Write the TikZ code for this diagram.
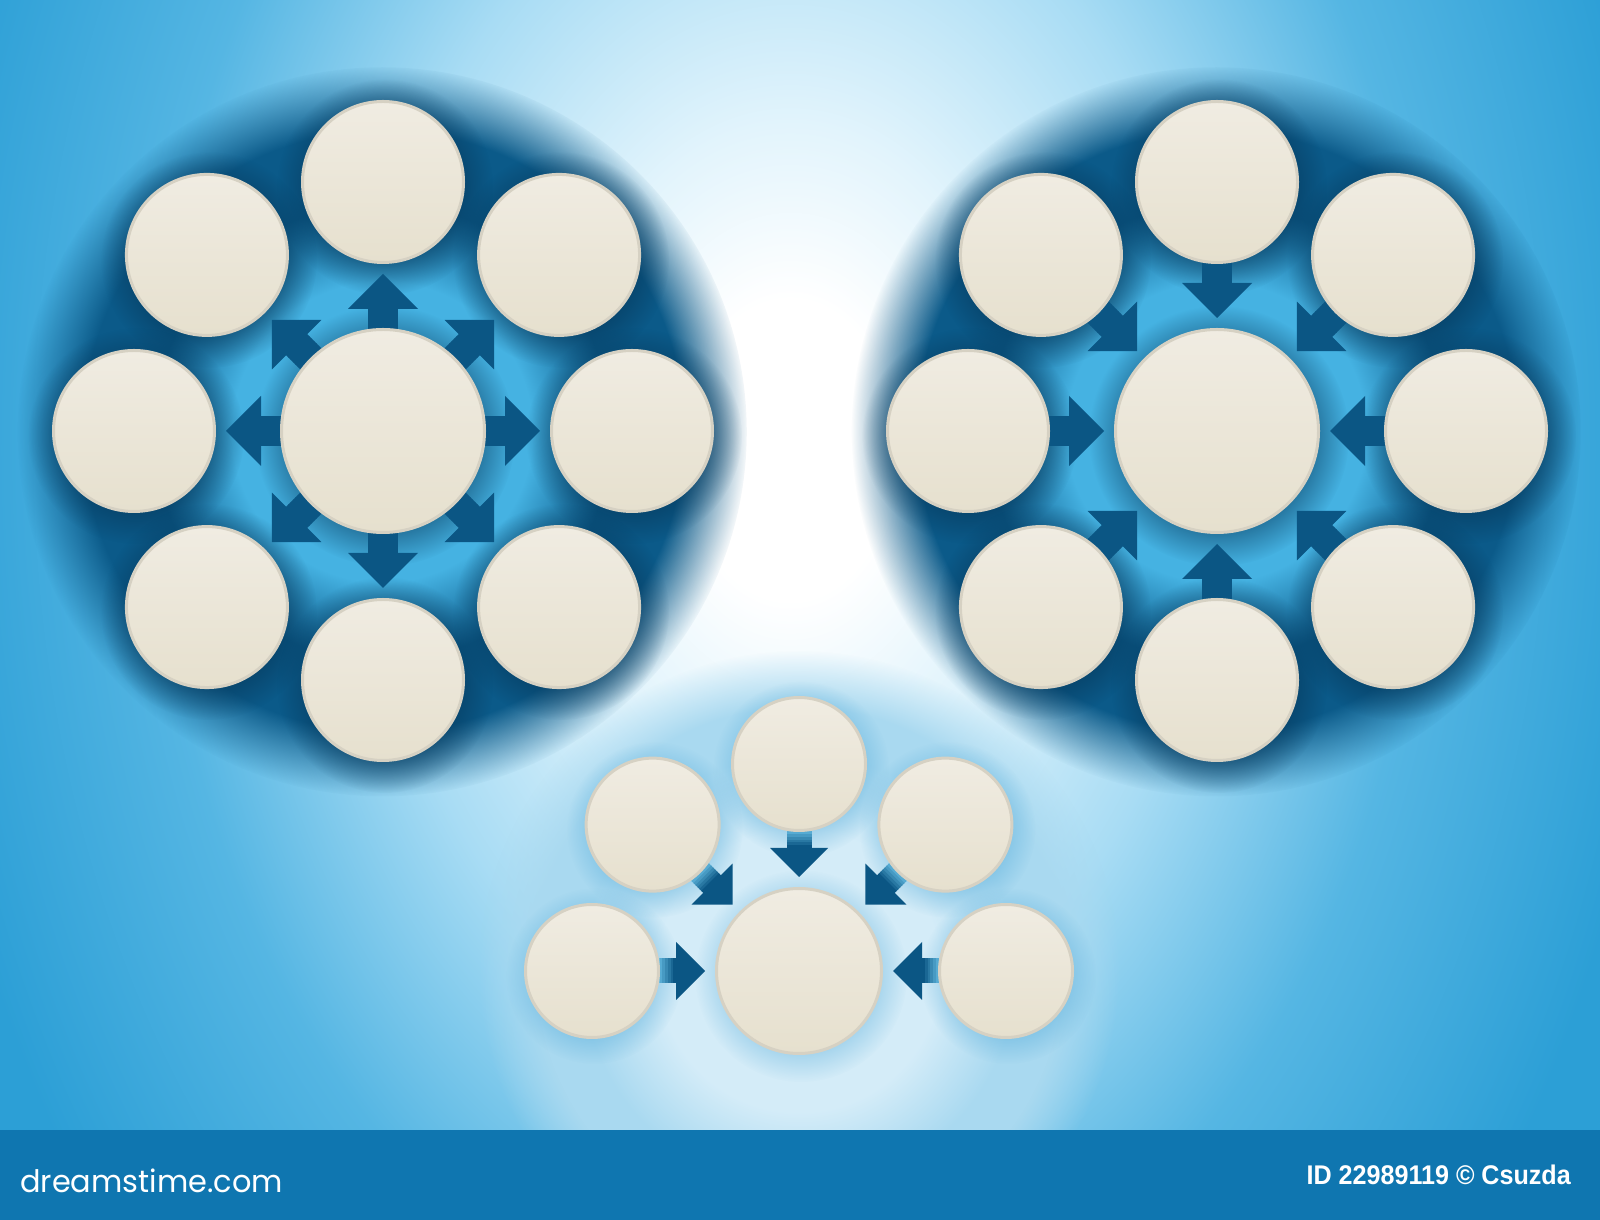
\documentclass[tikz,border=0pt]{standalone}
\usepackage{fontspec}
\newfontfamily\logofont{Poppins}
\newfontfamily\idfont{Liberation Sans}
\usetikzlibrary{calc,fadings}

\definecolor{bgblue}{HTML}{2C9FD6}
\definecolor{bgA}{HTML}{E2F4FC}
\definecolor{bgB}{HTML}{A8DCF4}
\definecolor{bgC}{HTML}{55B6E3}
\definecolor{gcyan}{HTML}{45B2E2}
\definecolor{gnavy}{HTML}{0B5A89}
\definecolor{lcyan}{HTML}{D4ECF8}
\definecolor{lblue}{HTML}{A9D9F0}
\definecolor{shnavy}{HTML}{06395C}
\definecolor{shlight}{HTML}{4FA9D8}
\definecolor{arrowc}{HTML}{0B5684}
\definecolor{tailc}{HTML}{74CDF2}
\definecolor{ctop}{HTML}{F0ECE2}
\definecolor{cbot}{HTML}{E6E0CE}
\definecolor{cborder}{HTML}{D6D1C3}
\definecolor{barblue}{HTML}{0F76B0}

% the path's bounding box maps to the -25bp..25bp square
\pgfdeclareradialshading{bgshade}{\pgfpoint{0bp}{0bp}}{color(0bp)=(white); color(3bp)=(white); color(6.5bp)=(bgA); color(12bp)=(bgB); color(18bp)=(bgC); color(25bp)=(bgblue); color(50bp)=(bgblue)}
\pgfdeclareradialshading{glow}{\pgfpoint{0bp}{0bp}}{color(0bp)=(gcyan); color(10.3bp)=(gcyan); color(15.7bp)=(gnavy); color(25bp)=(gnavy); color(50bp)=(gnavy)}
\pgfdeclareradialshading{glowlight}{\pgfpoint{0bp}{0bp}}{color(0bp)=(lcyan); color(11bp)=(lcyan); color(17bp)=(lblue); color(25bp)=(lblue); color(50bp)=(lblue)}
\pgfdeclareradialshading{glowfadeshade}{\pgfpoint{0bp}{0bp}}{color(0bp)=(white); color(20.5bp)=(white); color(25bp)=(black); color(50bp)=(black)}
\pgfdeclareradialshading{shadowfadeshade}{\pgfpoint{0bp}{0bp}}{color(0bp)=(white); color(17bp)=(white); color(25bp)=(black); color(50bp)=(black)}
\pgfdeclarefading{glowfade}{\pgfuseshading{glowfadeshade}}
\pgfdeclarefading{shadowfade}{\pgfuseshading{shadowfadeshade}}

\pgfdeclarelayer{bg}
\pgfsetlayers{bg,main}

% fat block arrow from node #1 towards node #2
% #3 start, #4 tip (distances from centre of #1), #5 shaft half width,
% #6 head half width, #7 head length, #8 tail colour
\newcommand\fatarrow[8]{%
  \path let \p1=($(#2)-(#1)$) in \pgfextra{\pgfmathparse{atan2(\y1,\x1)}\xdef\arrang{\pgfmathresult}};
  \begin{scope}[shift={(#1)}, rotate=\arrang]
    \pgfmathsetmacro\shl{(#4-#7-(#3))/8}
    \foreach \k in {0,...,7}{
      \pgfmathsetmacro\pc{\k*100/7}
      \fill[arrowc!\pc!#8] ({#3+\k*\shl},-#5) rectangle ({#3+(\k+1)*\shl+0.6},#5);
    }
    \fill[arrowc] (#4-#7,-#6) -- (#4,0) -- (#4-#7,#6) -- cycle;
  \end{scope}}

\newcommand\cshadow[3]{%
  \fill[#3, path fading=shadowfade] ($(#1)+(2,-5)$) circle (#2);}

\begin{document}
\begin{tikzpicture}[x=1pt,y=1pt,
  circ/.style={circle, draw=cborder, line width=3pt, top color=ctop, bottom color=cbot, inner sep=0pt},
  bigc/.style={circ, minimum size=203pt},
  outc/.style={circ, minimum size=161pt},
  midc/.style={circ, minimum size=165pt},
  smallc/.style={circ, minimum size=133pt},
  bartext/.style={text=white, inner sep=0pt}]
\useasboundingbox (0,0) rectangle (1600,1220);

\begin{pgfonlayer}{bg}
  \fill[bgblue] (0,0) rectangle (1600,1220);
  \begin{scope}
    \clip (0,90) rectangle (1600,1220);
    \shade[shading=bgshade] (790,770) ellipse [x radius=880, y radius=1250];
  \end{scope}
\end{pgfonlayer}

% ---------- circles ----------
\node[bigc] (Lc) at (383,789) {};
\foreach \a in {0,45,...,315}{
  \node[outc] (L\a) at ($(Lc)+(\a:249)$) {};
}
\node[bigc] (Rc) at (1217,789) {};
\foreach \a in {0,45,...,315}{
  \node[outc] (R\a) at ($(Rc)+(\a:249)$) {};
}
\node[midc] (Bc) at (799,249) {};
\foreach \a in {0,45,90,135,180}{
  \node[smallc] (B\a) at ($(Bc)+(\a:207)$) {};
}

% ---------- glows, shadows, arrows (behind circles) ----------
\begin{pgfonlayer}{bg}
  \shade[shading=glow, path fading=glowfade] (Lc) circle (365);
  \shade[shading=glow, path fading=glowfade] (Rc) circle (365);
  \shade[shading=glowlight, path fading=glowfade] (Bc) circle (320);

  \begin{scope}[fill opacity=0.6]
    \cshadow{Lc}{130}{shnavy}
    \cshadow{Rc}{130}{shnavy}
    \foreach \a in {0,45,...,315}{
      \cshadow{L\a}{108}{shnavy}
      \cshadow{R\a}{108}{shnavy}
    }
  \end{scope}
  \begin{scope}[fill opacity=0.4]
    \cshadow{Bc}{106}{shlight}
    \foreach \a in {0,45,90,135,180}{
      \cshadow{B\a}{88}{shlight}
    }
  \end{scope}

  \foreach \a in {0,45,...,315}{
    \fatarrow{Lc}{L\a}{95}{157}{15}{35}{35}{arrowc}
    \fatarrow{R\a}{Rc}{75}{136}{15}{35}{35}{arrowc}
  }
  \foreach \a in {0,45,90,135,180}{
    \fatarrow{B\a}{Bc}{62}{113}{12.5}{29}{29}{tailc}
  }
\end{pgfonlayer}

% ---------- footer ----------
\fill[barblue] (0,0) rectangle (1600,90);
\node[bartext, anchor=base west] (logo) at (20,27)
  {\scalebox{0.98}[1]{\logofont\fontsize{31}{31}\selectfont dreamstime.com}};
\node[bartext, anchor=base east] (credit) at (1571,35)
  {\scalebox{0.93}[1]{\idfont\bfseries\fontsize{27}{27}\selectfont ID 22989119 © Csuzda}};
\end{tikzpicture}
\end{document}
